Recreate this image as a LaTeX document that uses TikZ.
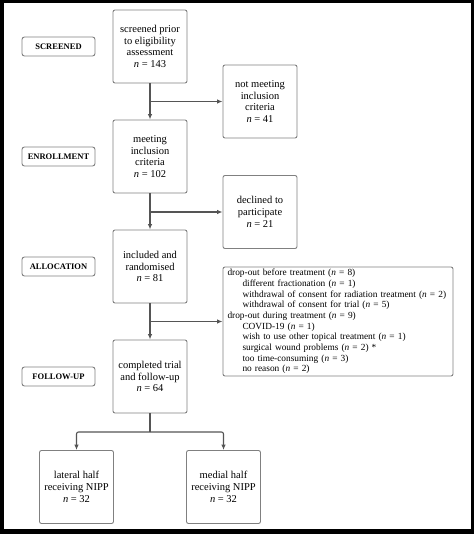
\documentclass[tikz,border=0pt]{standalone}
\usepackage{fontspec}
\setmainfont{Liberation Serif}
\usetikzlibrary{arrows.meta}
\definecolor{boxgray}{RGB}{128,128,128}
\definecolor{linegray}{RGB}{85,85,85}
\newcommand{\nn}{\textit{n}}
\begin{document}
\begin{tikzpicture}[x=1pt,y=-1pt,
  box/.style={draw=boxgray, line width=0.9pt, rounded corners=2pt, minimum width=74pt, minimum height=73pt, align=center, inner sep=1pt, font=\fontsize{10.5}{11.7}\selectfont},
  stage/.style={draw=boxgray, line width=0.9pt, rounded corners=2.5pt, minimum width=73pt, minimum height=19pt, inner sep=0pt, font=\fontsize{8.5}{9}\selectfont\bfseries},
  flow/.style={draw=linegray, line width=1.1pt},
  arr/.style={flow, -{Latex[length=5.5pt,width=4.5pt]}}
]
% frame
\fill[black] (0,0) rectangle (474,534);
\fill[white] (4,3) rectangle (471,529);
\useasboundingbox (0,0) rectangle (474,534);

% stage labels
\node[stage] (lscr) at (58.5,46.5) {SCREENED};
\node[stage] (lenr) at (58.5,156.5) {ENROLLMENT};
\node[stage] (lall) at (58.5,266.5) {ALLOCATION};
\node[stage] (lfol) at (58.5,376.5) {FOLLOW-UP};

% main column
\node[box] (s1) at (150,46.5) {screened prior\\to eligibility\\assessment\\\nn{} = 143};
\node[box] (s2) at (150,156.5) {meeting\\inclusion\\criteria\\\nn{} = 102};
\node[box] (s3) at (150,266.5) {included and\\randomised\\\nn{} = 81};
\node[box] (s4) at (150,376.5) {completed trial\\and follow-up\\\nn{} = 64};

% side boxes
\node[box] (nm) at (260,101.5) {not meeting\\inclusion\\criteria\\\nn{} = 41};
\node[box] (dc) at (260,212) {declined to\\participate\\\nn{} = 21};
\node[draw=boxgray, line width=0.9pt, rounded corners=2pt, minimum width=230pt, minimum height=109pt,
      text width=221pt, inner xsep=4.5pt, inner ysep=1pt, align=left,
      font=\fontsize{9.35}{10.67}\selectfont] (dr) at (338,321.5)
  {drop-out before treatment (\nn{} = 8)\\
   \hspace*{15pt}different fractionation (\nn{} = 1)\\
   \hspace*{15pt}withdrawal of consent for radiation treatment (\nn{} = 2)\\
   \hspace*{15pt}withdrawal of consent for trial (\nn{} = 5)\\
   drop-out during treatment (\nn{} = 9)\\
   \hspace*{15pt}COVID-19 (\nn{} = 1)\\
   \hspace*{15pt}wish to use other topical treatment (\nn{} = 1)\\
   \hspace*{15pt}surgical wound problems (\nn{} = 2) *\\
   \hspace*{15pt}too time-consuming (\nn{} = 3)\\
   \hspace*{15pt}no reason (\nn{} = 2)};

% bottom boxes
\node[box] (lat) at (76.5,487) {lateral half\\receiving NIPP\\\nn{} = 32};
\node[box] (med) at (223.5,487) {medial half\\receiving NIPP\\\nn{} = 32};

% connectors
\draw[arr] (s1.south) -- (s2.north);
\draw[arr] (s1.south |- nm.west) -- (nm.west);
\draw[arr] (s2.south) -- (s3.north);
\draw[arr] (s2.south |- dc.west) -- (dc.west);
\draw[arr] (s3.south) -- (s4.north);
\draw[arr] (s3.south |- dr.west) -- (dr.west);
\coordinate (sp) at (150,432);
\draw[flow] (s4.south) -- (sp);
\draw[arr, rounded corners=2pt] (sp) -| (lat.north);
\draw[arr, rounded corners=2pt] (sp) -| (med.north);
\end{tikzpicture}
\end{document}
